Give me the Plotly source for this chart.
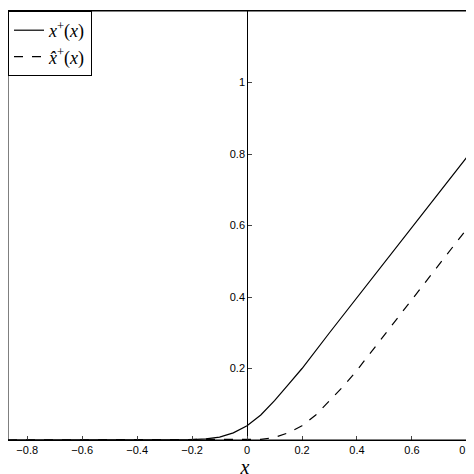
import plotly.graph_objects as go

# values
x_solid = [-0.87, -0.3, -0.2, -0.15, -0.1, -0.05, 0.0, 0.05, 0.1, 0.15, 0.2, 0.3, 0.88]
y_solid = [0.0, 0.0, 0.001, 0.003, 0.008, 0.02, 0.04, 0.07, 0.11, 0.155, 0.2, 0.3, 0.87]

x_dash = [-0.87, 0.0, 0.05, 0.1, 0.15, 0.2, 0.25, 0.3, 0.35, 0.4, 0.88]
y_dash = [0.0, 0.0, 0.002, 0.007, 0.02, 0.04, 0.07, 0.11, 0.15, 0.195, 0.67]

x_ticks = [-0.8, -0.6, -0.4, -0.2, 0, 0.2, 0.4, 0.6, 0.8]
y_ticks = [0.2, 0.4, 0.6, 0.8, 1]

fig = go.Figure()
fig.add_trace(go.Scatter(x=x_solid, y=y_solid, mode='lines', name='<i>x</i><sup>+</sup>(<i>x</i>)',
                         line=dict(color='black', width=1.2)))
fig.add_trace(go.Scatter(x=x_dash, y=y_dash, mode='lines', name='<i>x̂</i><sup>+</sup>(<i>x</i>)',
                         line=dict(color='black', width=1.2, dash='dash')))

fig.update_layout(
    width=474, height=474,
    margin=dict(l=0, r=0, t=3, b=42),
    plot_bgcolor='white', paper_bgcolor='white',
    font=dict(family='Liberation Sans', size=11, color='black'),
    showlegend=True,
    legend=dict(x=0, y=1, xanchor='left', yanchor='top', bgcolor='white',
                bordercolor='black', borderwidth=1,
                font=dict(family='Liberation Serif', size=18)),
    xaxis=dict(range=[-0.87, 0.855], tickvals=x_ticks, ticks='inside', ticklen=4,
               showgrid=False, zeroline=False, showline=True, linecolor='black', mirror=True,
               automargin=False,
               title=dict(text='<i>x</i>', font=dict(family='Liberation Serif', size=20), standoff=2)),
    yaxis=dict(range=[0, 1.2], tickvals=y_ticks, ticks='inside', ticklen=4,
               showgrid=False, zeroline=False, showline=True, linecolor='black',
               anchor='free', position=0.5047, automargin=False),
    shapes=[dict(type='rect', xref='paper', yref='paper', x0=0, y0=0, x1=1, y1=1,
                 line=dict(color='black', width=1))],
)

fig.write_html("out.html")
